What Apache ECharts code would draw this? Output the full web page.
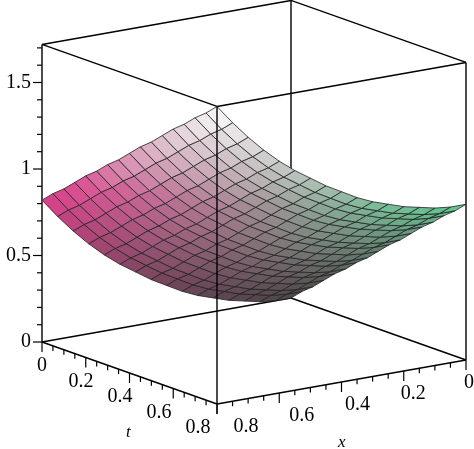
<!DOCTYPE html>
<html>
<head>
<meta charset="utf-8">
<script src="https://cdn.jsdelivr.net/npm/echarts@6/dist/echarts.min.js"></script>
<style>html,body{margin:0;padding:0;background:#fff}#chart-container{width:474px;height:449px}</style>
</head>
<body>
<div id="chart-container"></div>
<script>
// grid positions
var tValues = [0, 0.05, 0.1, 0.15, 0.2, 0.25, 0.3, 0.35, 0.4, 0.45, 0.5, 0.55, 0.6, 0.65, 0.7, 0.75, 0.8];
var xValues = [0, 0.05, 0.1, 0.15, 0.2, 0.25, 0.3, 0.35, 0.4, 0.45, 0.5, 0.55, 0.6, 0.65, 0.7, 0.75, 0.8];
// edge profiles: u along x at t=0, and rise along t
var uAlongX = [0, 0.00, 0.01, 0.03, 0.05, 0.08, 0.11, 0.15, 0.20, 0.25, 0.31, 0.37, 0.44, 0.52, 0.61, 0.71, 0.82];
var uAlongT = [0, 0.06, 0.11, 0.17, 0.23, 0.28, 0.34, 0.39, 0.45, 0.51, 0.56, 0.62, 0.68, 0.73, 0.79, 0.84, 0.90];
var zTicks = [0, 0.5, 1, 1.5];
var tTicks = [0, 0.2, 0.4, 0.6, 0.8];
var xTicks = [0, 0.2, 0.4, 0.6, 0.8];
var zMax = 1.72;

function u(j, i) { return uAlongT[j] + uAlongX[i]; }

// fixed projection of the box (screen units)
function project(t, x, z) {
  var a = t / 0.8, b = (0.8 - x) / 0.8;
  return [42 + a * 175 + b * 249, 342 + a * 62 + b * (-44) - z * 173];
}

function mix(c1, c2, k) {
  return [0, 1, 2].map(function (i) { return c1[i] + (c2[i] - c1[i]) * k; });
}
function cellColor(t, x, z) {
  var pink = [236, 66, 148], green = [96, 212, 150];
  var w = Math.max(0, Math.min(1, (t - x + 0.8) / 1.6));
  var c = mix(pink, green, w);
  if (z > 0.95) c = mix(c, [252, 252, 252], Math.min(1, (z - 0.95) / 0.75));
  else c = mix(c, [40, 40, 40], (0.95 - z) / 0.95 * 0.7);
  return "rgb(" + c.map(Math.round).join(",") + ")";
}

var cells = [];
for (var j = 0; j < tValues.length - 1; j++) {
  for (var i = 0; i < xValues.length - 1; i++) cells.push([j, i]);
}
cells.sort(function (p, q) { return (p[0] + p[1]) - (q[0] + q[1]); });

var backEdges = [
  [[0, 0.8, 0], [0, 0, 0]], [[0, 0, 0], [0.8, 0, 0]],
  [[0, 0, 0], [0, 0, zMax]], [[0, 0.8, 0], [0, 0.8, zMax]],
  [[0.8, 0, 0], [0.8, 0, zMax]],
  [[0, 0.8, 0], [0.8, 0.8, 0]], [[0.8, 0.8, 0], [0.8, 0, 0]],
  [[0, 0.8, zMax], [0, 0, zMax]], [[0, 0, zMax], [0.8, 0, zMax]],
  [[0, 0.8, zMax], [0.8, 0.8, zMax]], [[0.8, 0.8, zMax], [0.8, 0, zMax]]
];
var frontEdges = [[[0.8, 0.8, 0], [0.8, 0.8, zMax]]];

function edgeSeries(edges) {
  return {
    type: "custom", silent: true, data: edges.map(function (e, k) { return k; }),
    renderItem: function (params, api) {
      var e = edges[params.dataIndex];
      var p1 = api.coord(project.apply(null, e[0])), p2 = api.coord(project.apply(null, e[1]));
      return { type: "line", shape: { x1: p1[0], y1: p1[1], x2: p2[0], y2: p2[1] }, style: { stroke: "#000", lineWidth: 1.4 } };
    }
  };
}

var tickItems = [];
for (var k = 0; k <= 17; k++) {
  var z = k / 10;
  tickItems.push({ p: [0, 0.8, z], d: [k % 5 === 0 ? -9 : -5, 0], label: zTicks.indexOf(z) >= 0 ? String(z) : null, lo: [-11, 0], align: "right" });
}
for (var k = 0; k <= 16; k++) {
  var major = k % 4 === 0;
  var tv = k / 20, xv = 0.8 - k / 20;
  tickItems.push({ p: [tv, 0.8, 0], d: [0, major ? 10 : 5], label: major ? String(tTicks[k / 4]) : null, lo: [-19 * tv / 0.8, 24], align: "center" });
  tickItems.push({ p: [0.8, xv, 0], d: [0, major ? 10 : 5], label: major ? String(xTicks[4 - k / 4]) : null, lo: [3 + 26 * xv / 0.8, 23], align: "center" });
}

var option = {
  animation: false,
  grid: { left: 0, right: 0, top: 0, bottom: 0 },
  xAxis: { type: "value", min: 0, max: 474, show: false },
  yAxis: { type: "value", min: 0, max: 449, inverse: true, show: false },
  series: [
    edgeSeries(backEdges),
    {
      type: "custom", silent: true, data: cells,
      renderItem: function (params, api) {
        var c = cells[params.dataIndex], j = c[0], i = c[1];
        var corners = [[j, i], [j + 1, i], [j + 1, i + 1], [j, i + 1]];
        var pts = corners.map(function (q) {
          return api.coord(project(tValues[q[0]], xValues[q[1]], u(q[0], q[1])));
        });
        var zm = (u(j, i) + u(j + 1, i) + u(j, i + 1) + u(j + 1, i + 1)) / 4;
        return {
          type: "polygon", shape: { points: pts },
          style: { fill: cellColor(tValues[j] + 0.025, xValues[i] + 0.025, zm), stroke: "#222", lineWidth: 0.8 }
        };
      }
    },
    edgeSeries(frontEdges),
    {
      type: "custom", silent: true, data: tickItems.map(function (e, k) { return k; }),
      renderItem: function (params, api) {
        var it = tickItems[params.dataIndex];
        var p = api.coord(project.apply(null, it.p));
        var children = [{ type: "line", shape: { x1: p[0], y1: p[1], x2: p[0] + it.d[0], y2: p[1] + it.d[1] }, style: { stroke: "#000", lineWidth: 1.2 } }];
        if (it.label !== null) {
          children.push({ type: "text", x: p[0] + it.lo[0], y: p[1] + it.lo[1],
            style: { text: it.label, fill: "#000", font: "20px 'Liberation Serif'", align: it.align, verticalAlign: "middle" } });
        }
        return { type: "group", children: children };
      }
    }
  ],
  graphic: [
    { type: "text", left: 126, top: 424, style: { text: "t", font: "italic 17px 'Liberation Serif'", fill: "#000" } },
    { type: "text", left: 338, top: 434, style: { text: "x", font: "italic 17px 'Liberation Serif'", fill: "#000" } }
  ]
};

var myChart = echarts.init(document.getElementById("chart-container"), null, { renderer: "canvas" });
myChart.setOption(option);
window.addEventListener("resize", myChart.resize);
</script>
</body>
</html>
